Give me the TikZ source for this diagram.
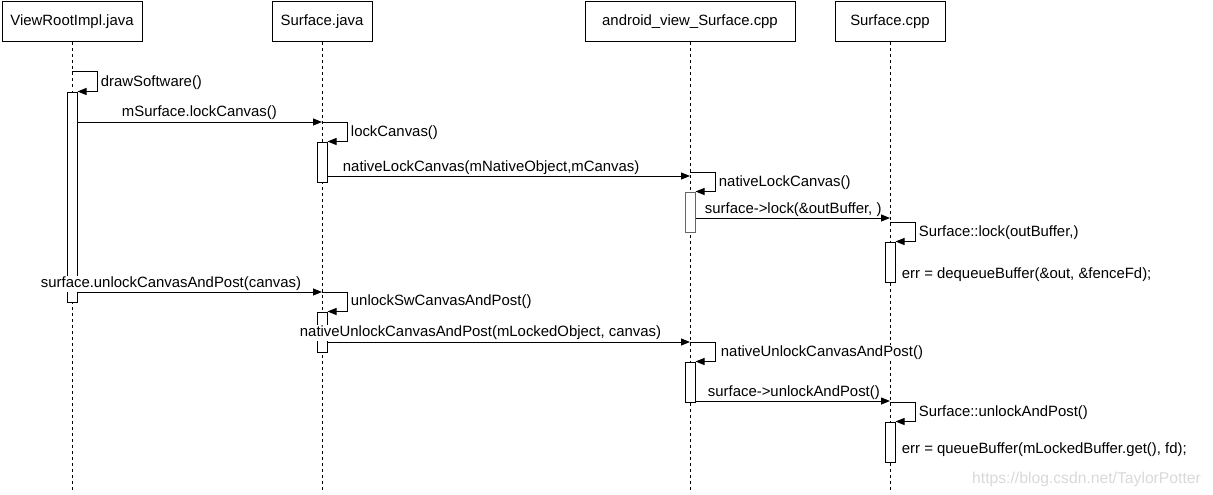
\documentclass[tikz,border=0pt]{standalone}
\usepackage{fontspec}
\setmainfont{Liberation Sans}
\usetikzlibrary{arrows.meta}

\tikzset{
  obj/.style={draw, line width=1pt, minimum width=#1, minimum height=40pt, inner sep=0pt, font=\fontsize{14.9}{18}\selectfont},
  obj/.default=100pt,
  life/.style={line width=1pt, dash pattern=on 3pt off 3pt},
  act/.style={draw, fill=white, line width=1pt, minimum width=10pt, minimum height=40pt, inner sep=0pt},
  msg/.style={line width=1pt, -{Triangle[length=9pt,width=7pt]}},
  lbl/.style={anchor=west, inner sep=0.75pt, fill=white, font=\fontsize{14.9}{18}\selectfont, yshift=-2pt},
}

\begin{document}
\begin{tikzpicture}[x=1pt,y=-1pt]
\useasboundingbox (0,0) rectangle (1213,495);

%Shape: Rectangle [objects]
\node[obj=140pt] (vri) at (72,22) {ViewRootImpl.java};
\node[obj=100pt] (sjava) at (322,22) {Surface.java};
\node[obj=210pt] (avs) at (690,22) {android\_view\_Surface.cpp};
\node[obj=110pt] (scpp) at (890,22) {Surface.cpp};

%Straight Lines [lifelines]
\foreach \o in {vri,sjava,avs,scpp}
  \draw[life] (\o.south) -- (\o.south |- 0,490);

%Shape: Rectangle [activations]
\node[act, minimum height=210pt] (actvri) at (72,197) {};
\node[act] (actlock) at (322,162) {};
\node[act] (actunlock) at (322,332) {};
\node[act, draw=black!60] (actnlock) at (690,212) {};
\node[act] (actnunlock) at (690,382) {};
\node[act] (actslock) at (890,262) {};
\node[act] (actsunlock) at (890,442) {};

% message points
\coordinate (dsw) at (72,72);
\coordinate (lc) at (322,122);
\coordinate (nlc) at (690,176);
\coordinate (nlcl) at (690,172);
\coordinate (slk) at (890,218);
\coordinate (slkl) at (890,222);
\coordinate (ucp) at (322,292);
\coordinate (nucp) at (690,342);
\coordinate (sup) at (890,401);
\coordinate (supl) at (890,402);

% Text Node
\node[lbl] (tdsw) at (100,81) {drawSoftware()};
\node[lbl] (tlc) at (121,111) {mSurface.lockCanvas()};
\node[lbl] (tlcs) at (350,131) {lockCanvas()};
\node[lbl] (tnlc) at (342,166) {nativeLockCanvas(mNativeObject,mCanvas)};
\node[lbl] (tnlcs) at (718,181) {nativeLockCanvas()};
\node[lbl] (tslk) at (704,208) {surface->lock(\&outBuffer, )};
\node[lbl] (tslks) at (918,231) {Surface::lock(outBuffer,)};
\node[lbl] (tdeq) at (901,273) {err = dequeueBuffer(\&out, \&fenceFd);};
\node[lbl] (tucp) at (40,282) {surface.unlockCanvasAndPost(canvas)};
\node[lbl] (tucps) at (350,300) {unlockSwCanvasAndPost()};
\node[lbl] (tnucp) at (299,331) {nativeUnlockCanvasAndPost(mLockedObject, canvas)};
\node[lbl] (tnucps) at (720,351) {nativeUnlockCanvasAndPost()};
\node[lbl] (tsup) at (707,391) {surface->unlockAndPost()};
\node[lbl] (tsups) at (918,411) {Surface::unlockAndPost()};
\node[lbl] (tqb) at (901,448) {err = queueBuffer(mLockedBuffer.get(), fd);};
\node[anchor=west, inner sep=0pt, text=gray!30, font=\fontsize{15.7}{18}\selectfont, yshift=-2pt] (wm) at (972,477) {https://blog.csdn.net/TaylorPotter};

%Straight Lines [messages]
\draw[msg] (dsw) -- ++(25,0) |- (actvri.north east);
\draw[msg] (actvri.east |- lc) -- (lc);
\draw[msg] (lc) -- ++(25,0) |- (actlock.north east);
\draw[msg] (actlock.east |- nlc) -- (nlc);
\draw[msg] (nlcl) -- ++(25,0) |- (actnlock.north east);
\draw[msg] (actnlock.east |- slk) -- (slk);
\draw[msg] (slkl) -- ++(25,0) |- (actslock.north east);
\draw[msg] (actvri.east |- ucp) -- (ucp);
\draw[msg] (ucp) -- ++(25,0) |- (actunlock.north east);
\draw[msg] (actunlock.east |- nucp) -- (nucp);
\draw[msg] (nucp) -- ++(25,0) |- (actnunlock.north east);
\draw[msg] (actnunlock.east |- sup) -- (sup);
\draw[msg] (supl) -- ++(25,0) |- (actsunlock.north east);

\end{tikzpicture}
\end{document}
